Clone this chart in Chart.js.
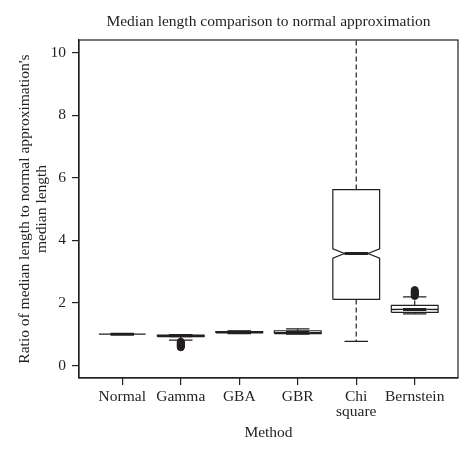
<!DOCTYPE html>
<html>
<head>
<meta charset="utf-8">
<script src="https://cdn.jsdelivr.net/npm/chart.js@4.4.1/dist/chart.umd.min.js"></script>
<style>
  html, body { margin: 0; padding: 0; background: #fff; }
  #wrap { width: 474px; height: 460px; }
</style>
</head>
<body>
<div id="wrap"><canvas id="boxChart" width="474" height="460"></canvas></div>
<script>
// values
const categories = ['Normal', 'Gamma', 'GBA', 'GBR', ['Chi', 'square'], 'Bernstein'];
const lowerWhisker = [1.00, 0.81, 1.02, 1.00, 0.77, 1.65];
const q1 = [1.00, 0.92, 1.04, 1.02, 2.11, 1.70];
const notchLow = [1.00, 0.947, 1.058, 1.047, 3.43, 1.785];
const median = [1.00, 0.95, 1.06, 1.05, 3.58, 1.79];
const notchHigh = [1.00, 0.953, 1.062, 1.053, 3.73, 1.795];
const q3 = [1.00, 0.97, 1.08, 1.11, 5.62, 1.92];
const upperWhisker = [1.00, 0.99, 1.11, 1.17, 12.0, 2.19];
const outliers = [
    [],
    [0.58, 0.60, 0.62, 0.64, 0.66, 0.68, 0.70, 0.72, 0.74, 0.76],
    [],
    [],
    [],
    [2.22, 2.25, 2.28, 2.30, 2.33, 2.36, 2.38, 2.41]
];
const yTicks = [0, 2, 4, 6, 8, 10];

const ink = '#231f20';
const serif = 'Liberation Serif';
const boxHalf = 0.4, notchHalf = 0.2, capHalf = 0.2;

// build the line pieces, null y breaks the line between boxes
var boxPts = [], medPts = [], whiskPts = [], capPts = [], outPts = [];
categories.forEach(function(cat, i) {
    var c = i + 1;
    boxPts.push(
        {x: c - boxHalf, y: q1[i]}, {x: c - boxHalf, y: notchLow[i]},
        {x: c - notchHalf, y: median[i]}, {x: c - boxHalf, y: notchHigh[i]},
        {x: c - boxHalf, y: q3[i]}, {x: c + boxHalf, y: q3[i]},
        {x: c + boxHalf, y: notchHigh[i]}, {x: c + notchHalf, y: median[i]},
        {x: c + boxHalf, y: notchLow[i]}, {x: c + boxHalf, y: q1[i]},
        {x: c - boxHalf, y: q1[i]}, {x: c, y: null});
    medPts.push({x: c - notchHalf, y: median[i]}, {x: c + notchHalf, y: median[i]}, {x: c, y: null});
    whiskPts.push({x: c, y: q3[i]}, {x: c, y: upperWhisker[i]}, {x: c, y: null},
                  {x: c, y: q1[i]}, {x: c, y: lowerWhisker[i]}, {x: c, y: null});
    capPts.push({x: c - capHalf, y: upperWhisker[i]}, {x: c + capHalf, y: upperWhisker[i]}, {x: c, y: null},
                {x: c - capHalf, y: lowerWhisker[i]}, {x: c + capHalf, y: lowerWhisker[i]}, {x: c, y: null});
    outliers[i].forEach(function(v) { outPts.push({x: c, y: v}); });
});

function lineSet(pts, width, dash) {
    return {
        data: pts, showLine: true, spanGaps: false, fill: false,
        borderColor: ink, borderWidth: width, borderDash: dash || [],
        borderCapStyle: 'butt', borderJoinStyle: 'miter',
        pointRadius: 0, tension: 0
    };
}

// frame around the plot region
const frame = {
    id: 'frame',
    afterDraw: function(chart) {
        var a = chart.chartArea, c = chart.ctx;
        c.save();
        c.strokeStyle = ink;
        c.lineWidth = 1.2;
        c.strokeRect(a.left, a.top, a.right - a.left, a.bottom - a.top);
        c.restore();
    }
};

var ctx = document.getElementById('boxChart').getContext('2d');
var boxChart = new Chart(ctx, {
    type: 'scatter',
    data: {
        datasets: [
            lineSet(whiskPts, 1.2, [5, 3]),
            lineSet(capPts, 1.2),
            lineSet(boxPts, 1.2),
            lineSet(medPts, 3),
            {
                data: outPts, showLine: false,
                pointRadius: 3.5, pointBorderWidth: 1,
                pointBackgroundColor: ink, pointBorderColor: ink
            }
        ]
    },
    options: {
        responsive: false,
        animation: false,
        devicePixelRatio: 1,
        layout: { padding: { left: 0, right: 16, top: 0, bottom: 0 } },
        plugins: {
            legend: { display: false },
            tooltip: { enabled: false },
            title: {
                display: true,
                fullSize: false,
                text: 'Median length comparison to normal approximation',
                color: ink,
                font: { family: serif, size: 15.5, weight: 'normal', lineHeight: 1.2 },
                padding: { top: 13, bottom: 8.4 }
            }
        },
        scales: {
            x: {
                type: 'linear',
                min: 0.26, max: 6.74,
                afterBuildTicks: function(scale) {
                    scale.ticks = categories.map(function(c, i) { return {value: i + 1}; });
                },
                afterFit: function(scale) { scale.height = 82; },
                ticks: {
                    color: ink, padding: 5, maxRotation: 0, autoSkip: false,
                    font: { family: serif, size: 15.5, lineHeight: 0.95 },
                    callback: function(value) { return categories[value - 1]; }
                },
                grid: { drawOnChartArea: false, drawTicks: true, tickLength: 7, color: ink, lineWidth: 1.2 },
                border: { display: true, color: ink, width: 1.2 },
                title: {
                    display: true, text: 'Method', color: ink,
                    font: { family: serif, size: 15.5, lineHeight: 1.2 },
                    padding: { top: 0, bottom: 17.7 }
                }
            },
            y: {
                type: 'linear',
                min: -0.4, max: 10.4,
                afterBuildTicks: function(scale) {
                    scale.ticks = yTicks.map(function(v) { return {value: v}; });
                },
                afterFit: function(scale) { scale.width = 79; },
                ticks: {
                    color: ink, padding: 6,
                    font: { family: serif, size: 15.5 }
                },
                grid: { drawOnChartArea: false, drawTicks: true, tickLength: 7, color: ink, lineWidth: 1.2 },
                border: { display: true, color: ink, width: 1.2 },
                title: {
                    display: true,
                    text: ["Ratio of median length to normal approximation's", 'median length'],
                    color: ink,
                    font: { family: serif, size: 15.5, lineHeight: 1.1 },
                    padding: { top: 16.5, bottom: 0 }
                }
            }
        }
    },
    plugins: [frame]
});
</script>
</body>
</html>
